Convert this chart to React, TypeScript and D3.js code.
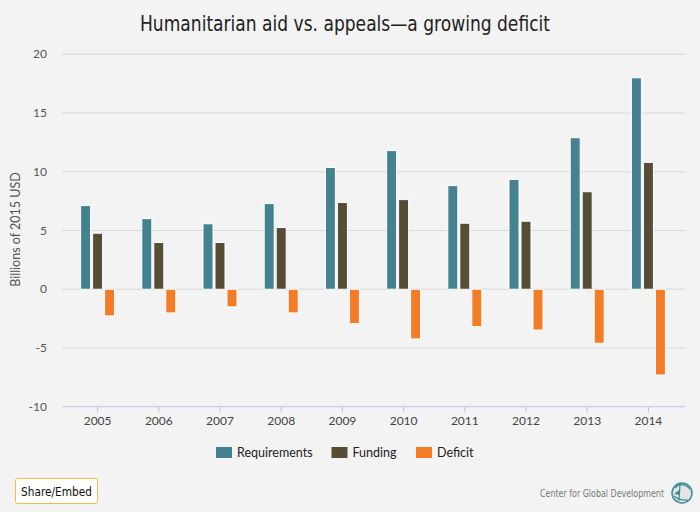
import * as d3 from "d3";
import { useMemo } from "react";

const years = ["2005", "2006", "2007", "2008", "2009", "2010", "2011", "2012", "2013", "2014"];
const requirements = [7.12, 6.01, 5.57, 7.29, 10.36, 11.8, 8.82, 9.34, 12.9, 18.0];
const funding = [4.77, 3.98, 3.98, 5.25, 7.38, 7.63, 5.62, 5.79, 8.3, 10.8];
const deficit = [-2.27, -2.02, -1.5, -2.02, -2.93, -4.23, -3.18, -3.47, -4.6, -7.3];
const yTicks = [-10, -5, 0, 5, 10, 15, 20];

const seriesNames = ["Requirements", "Funding", "Deficit"];
const seriesColors = ["#43828e", "#554d35", "#f47c26"];
const seriesValues = [requirements, funding, deficit];

const width = 700;
const height = 512;
const bg = "#f3f3f3";
const labelFont = "Lato, 'Open Sans', sans-serif";

export default function App() {
  const chart = useMemo(() => {
    const x = d3.scaleBand<string>().domain(years).range([67, 679]);
    const inner = d3.scaleBand<string>().domain(seriesNames).range([-17, 17]).paddingInner(2 / 12);
    const y = d3.scaleLinear().domain([-10, 20]).range([406.7, 54.3]);
    return { x, inner, y };
  }, []);

  const { x, inner, y } = chart;
  const center = (yr: string) => (x(yr) ?? 0) + x.bandwidth() / 2;

  return (
    <svg
      width={width}
      height={height}
      style={{ position: "absolute", left: 0, top: 0, display: "block" }}
    >
      <rect x={0} y={0} width={width} height={height} fill={bg} />

      <text
        x={345}
        y={31}
        textAnchor="middle"
        fontFamily="Futura, 'Liberation Sans Narrow', 'DejaVu Sans Condensed', sans-serif"
        fontSize={22}
        fill="#222"
        textLength={410}
        lengthAdjust="spacingAndGlyphs"
      >
        Humanitarian aid vs. appeals—a growing deficit
      </text>

      {/* grid + y labels */}
      {yTicks.map((t) => (
        <g key={t}>
          {t !== -10 ? (
            <line x1={62} x2={685} y1={y(t)} y2={y(t)} stroke="#d8d8d8" strokeWidth={1} />
          ) : null}
          <text
            x={47}
            y={y(t) + 4}
            textAnchor="end"
            fontFamily={labelFont}
            fontSize={12}
            fill="#555"
          >
            {t}
          </text>
        </g>
      ))}

      <line x1={62} x2={685} y1={y(-10)} y2={y(-10)} stroke="#b9c9df" strokeWidth={1} />
      {years.map((yr) => (
        <g key={yr}>
          <line x1={center(yr)} x2={center(yr)} y1={y(-10)} y2={y(-10) + 6} stroke="#b9c9df" />
          <text
            x={center(yr)}
            y={425}
            textAnchor="middle"
            fontFamily={labelFont}
            fontSize={12}
            fill="#444"
          >
            {yr}
          </text>
        </g>
      ))}

      <text
        transform={`translate(20, 229.5) rotate(-90)`}
        textAnchor="middle"
        fontFamily={labelFont}
        fontSize={12.5}
        fill="#555"
      >
        Billions of 2015 USD
      </text>

      {/* bars */}
      {seriesNames.map((name, si) =>
        years.map((yr, i) => {
          const v = seriesValues[si][i];
          const bx = center(yr) + (inner(name) ?? 0);
          return (
            <rect
              key={`${name}-${yr}`}
              x={bx}
              y={Math.min(y(v), y(0))}
              width={inner.bandwidth()}
              height={Math.abs(y(v) - y(0))}
              fill={seriesColors[si]}
              stroke="#fff"
              strokeWidth={1}
            />
          );
        })
      )}

      {/* legend */}
      {seriesNames.map((name, si) => {
        const lx = [216, 331.5, 416][si];
        return (
          <g key={name}>
            <rect x={lx} y={447} width={16} height={11} fill={seriesColors[si]} />
            <text x={lx + 21} y={457} fontFamily={labelFont} fontSize={12.5} fill="#222">
              {name}
            </text>
          </g>
        );
      })}

      {/* footer */}
      <rect x={15.5} y={478.5} width={82} height={25} rx={2} fill="#fff" stroke="#f5bb4a" />
      <text
        x={56.5}
        y={495.5}
        textAnchor="middle"
        fontFamily="'Liberation Sans Narrow', 'DejaVu Sans Condensed', sans-serif"
        fontSize={13}
        fill="#111"
        textLength={71}
        lengthAdjust="spacingAndGlyphs"
      >
        Share/Embed
      </text>
      <text
        x={664}
        y={497}
        textAnchor="end"
        fontFamily="'Liberation Sans Narrow', 'DejaVu Sans Condensed', sans-serif"
        fontSize={11}
        fill="#777"
        textLength={124}
        lengthAdjust="spacingAndGlyphs"
      >
        Center for Global Development
      </text>
      <g transform="translate(682, 493)">
        <circle r={10} fill="#e4e4e4" stroke="#3e8a9a" strokeWidth={1.5} />
        <path d="M-7,-5 Q0,-12 8,-4" fill="none" stroke="#3e8a9a" strokeWidth={1.2} />
        <path d="M-8,3 Q-2,8 6,7" fill="none" stroke="#3e8a9a" strokeWidth={1.2} />
        <path d="M-2,-9 L-3,8" fill="none" stroke="#3e8a9a" strokeWidth={1.2} />
        <path d="M-3,-3 L-8,1 L-3,2 Z" fill="#3e8a9a" />
      </g>
    </svg>
  );
}
